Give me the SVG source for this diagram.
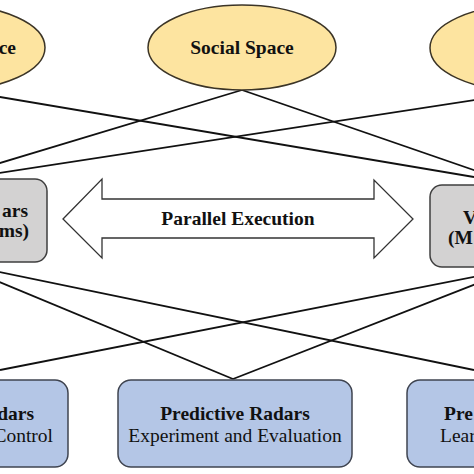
<svg xmlns="http://www.w3.org/2000/svg" width="474" height="474" viewBox="0 0 474 474">
<style>
.sp{fill:#fde4a0;stroke:#3b3426;stroke-width:1.5}
.sys{fill:#d3d2d2;stroke:#3f3f3f;stroke-width:1.5}
.fn{fill:#b4c6e6;stroke:#3f4450;stroke-width:1.5}
.ln{stroke:#111;stroke-width:1.8;fill:none}
.b{font-family:"Liberation Serif","Times New Roman",serif;font-weight:bold;font-size:19.5px;fill:#111}
.r{font-family:"Liberation Serif","Times New Roman",serif;font-size:19.5px;fill:#111}
</style>
<rect width="474" height="474" fill="#fff"/>
<g id="connectors">
<line class="ln" x1="-49" y1="88.7" x2="474" y2="177"/>
<line class="ln" x1="242" y1="90" x2="-20" y2="169"/>
<line class="ln" x1="242" y1="90" x2="494" y2="177"/>
<line class="ln" x1="524" y1="92.4" x2="-20" y2="176"/>
<line class="ln" x1="-20" y1="268" x2="474" y2="370"/>
<line class="ln" x1="-20" y1="274" x2="233" y2="379"/>
<line class="ln" x1="494" y1="273" x2="0" y2="370"/>
<line class="ln" x1="494" y1="277" x2="233" y2="379"/>
</g>
<g id="space-left"><ellipse class="sp" cx="-49" cy="47.5" rx="94" ry="42.5"/><text class="b" x="16" y="54" text-anchor="end">ce</text></g>
<g id="space-social"><ellipse class="sp" cx="242" cy="47.5" rx="94" ry="42.5"/><text class="b" x="242" y="54" text-anchor="middle">Social Space</text></g>
<g id="space-right"><ellipse class="sp" cx="524" cy="48" rx="94" ry="43"/></g>
<g id="system-left"><rect class="sys" x="-60" y="179" width="107" height="83" rx="12"/><text class="b" x="28" y="217" text-anchor="end">ars</text><text class="b" x="29" y="237" text-anchor="end">ms)</text></g>
<g id="system-right"><rect class="sys" x="430" y="185" width="110" height="82" rx="12"/><text class="b" x="463" y="224">V</text><text class="b" x="448" y="244">(M</text></g>
<g id="parallel-execution"><polygon points="63,219 102,179 102,199 374,199 374,180 413,219 374,258 374,238 102,238 102,258" fill="#fff" stroke="#333" stroke-width="1.3"/><text class="b" x="238" y="225" text-anchor="middle">Parallel Execution</text></g>
<g id="radar-left"><rect class="fn" x="-100" y="380" width="168" height="87" rx="13"/><text class="b" x="34" y="420" text-anchor="end">dars</text><text class="r" x="53" y="442" text-anchor="end">Control</text></g>
<g id="radar-predictive"><rect class="fn" x="118" y="380" width="234" height="87" rx="13"/><text class="b" x="235" y="420" text-anchor="middle">Predictive Radars</text><text class="r" x="235" y="442" text-anchor="middle">Experiment and Evaluation</text></g>
<g id="radar-right"><rect class="fn" x="407" y="380" width="180" height="87" rx="13"/><text class="b" x="444" y="420">Pre</text><text class="r" x="440" y="442">Lear</text></g>
</svg>
